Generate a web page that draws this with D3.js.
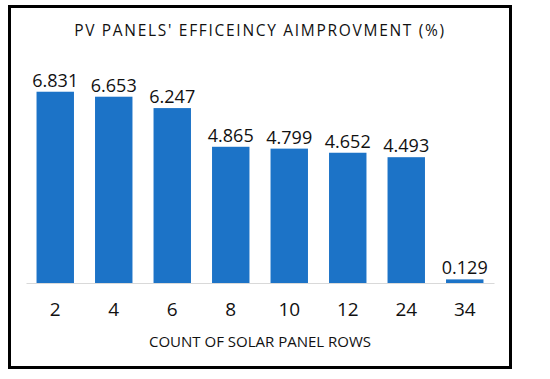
<!DOCTYPE html>
<html>
<head>
<meta charset="utf-8">
<script src="https://cdn.jsdelivr.net/npm/d3@7"></script>
<style>
  body { margin: 0; background: #fff; }
  text { font-family: "Open Sans", Lato, sans-serif; fill: #111; }
</style>
</head>
<body>
<div id="chart"></div>
<script>
// chart data
var rows = ["2", "4", "6", "8", "10", "12", "24", "34"];
var improvement = [6.831, 6.653, 6.247, 4.865, 4.799, 4.652, 4.493, 0.129];
var titleText = "PV PANELS' EFFICEINCY AIMPROVMENT (%)";
var xTitle = "COUNT OF SOLAR PANEL ROWS";

var width = 550, height = 379;
var margin = {top: 59, right: 56, bottom: 96, left: 26},
    innerWidth = width - margin.left - margin.right,
    innerHeight = height - margin.top - margin.bottom;

var data = rows.map(function (r, i) { return {row: r, value: improvement[i]}; });

var svg = d3.select("#chart").append("svg")
    .attr("width", width)
    .attr("height", height);

// frame
svg.append("rect")
    .attr("x", 9.5).attr("y", 6.5)
    .attr("width", 501).attr("height", 361)
    .attr("fill", "none")
    .attr("stroke", "#000")
    .attr("stroke-width", 3);

svg.append("text")
    .attr("x", 260).attr("y", 36)
    .attr("text-anchor", "middle")
    .attr("font-size", "15.5px")
    .attr("letter-spacing", "1.7px")
    .text(titleText);

var g = svg.append("g")
    .attr("transform", "translate(" + margin.left + "," + margin.top + ")");

var xScale = d3.scaleBand().domain(rows).range([0, innerWidth])
    .paddingInner(0.36).paddingOuter(0.18);
var yScale = d3.scaleLinear().domain([0, 8]).range([innerHeight, 0]);

g.selectAll(".bar")
    .data(data)
  .enter().append("rect")
    .attr("class", "bar")
    .attr("x", function (d) { return xScale(d.row); })
    .attr("y", function (d) { return yScale(d.value); })
    .attr("width", xScale.bandwidth())
    .attr("height", function (d) { return innerHeight - yScale(d.value); })
    .attr("fill", "#1c73c7");

g.selectAll(".lbl")
    .data(data)
  .enter().append("text")
    .attr("class", "lbl")
    .attr("x", function (d) { return xScale(d.row) + xScale.bandwidth() / 2; })
    .attr("y", function (d) { return yScale(d.value) - 5; })
    .attr("text-anchor", "middle")
    .attr("font-size", "18px")
    .text(function (d) { return d3.format(".3f")(d.value); });

// x axis
var xAxis = g.append("g")
    .attr("transform", "translate(0," + innerHeight + ")")
    .call(d3.axisBottom(xScale).tickSize(0).tickPadding(20));
xAxis.select(".domain").attr("stroke", "#d9d9d9").attr("stroke-width", 1);
xAxis.selectAll("text")
    .attr("font-size", "19px")
    .attr("font-family", "'Open Sans', Lato, sans-serif")
    .attr("fill", "#111");

svg.append("text")
    .attr("x", 260).attr("y", 347)
    .attr("text-anchor", "middle")
    .attr("font-size", "15px")
    .text(xTitle);
</script>
</body>
</html>
